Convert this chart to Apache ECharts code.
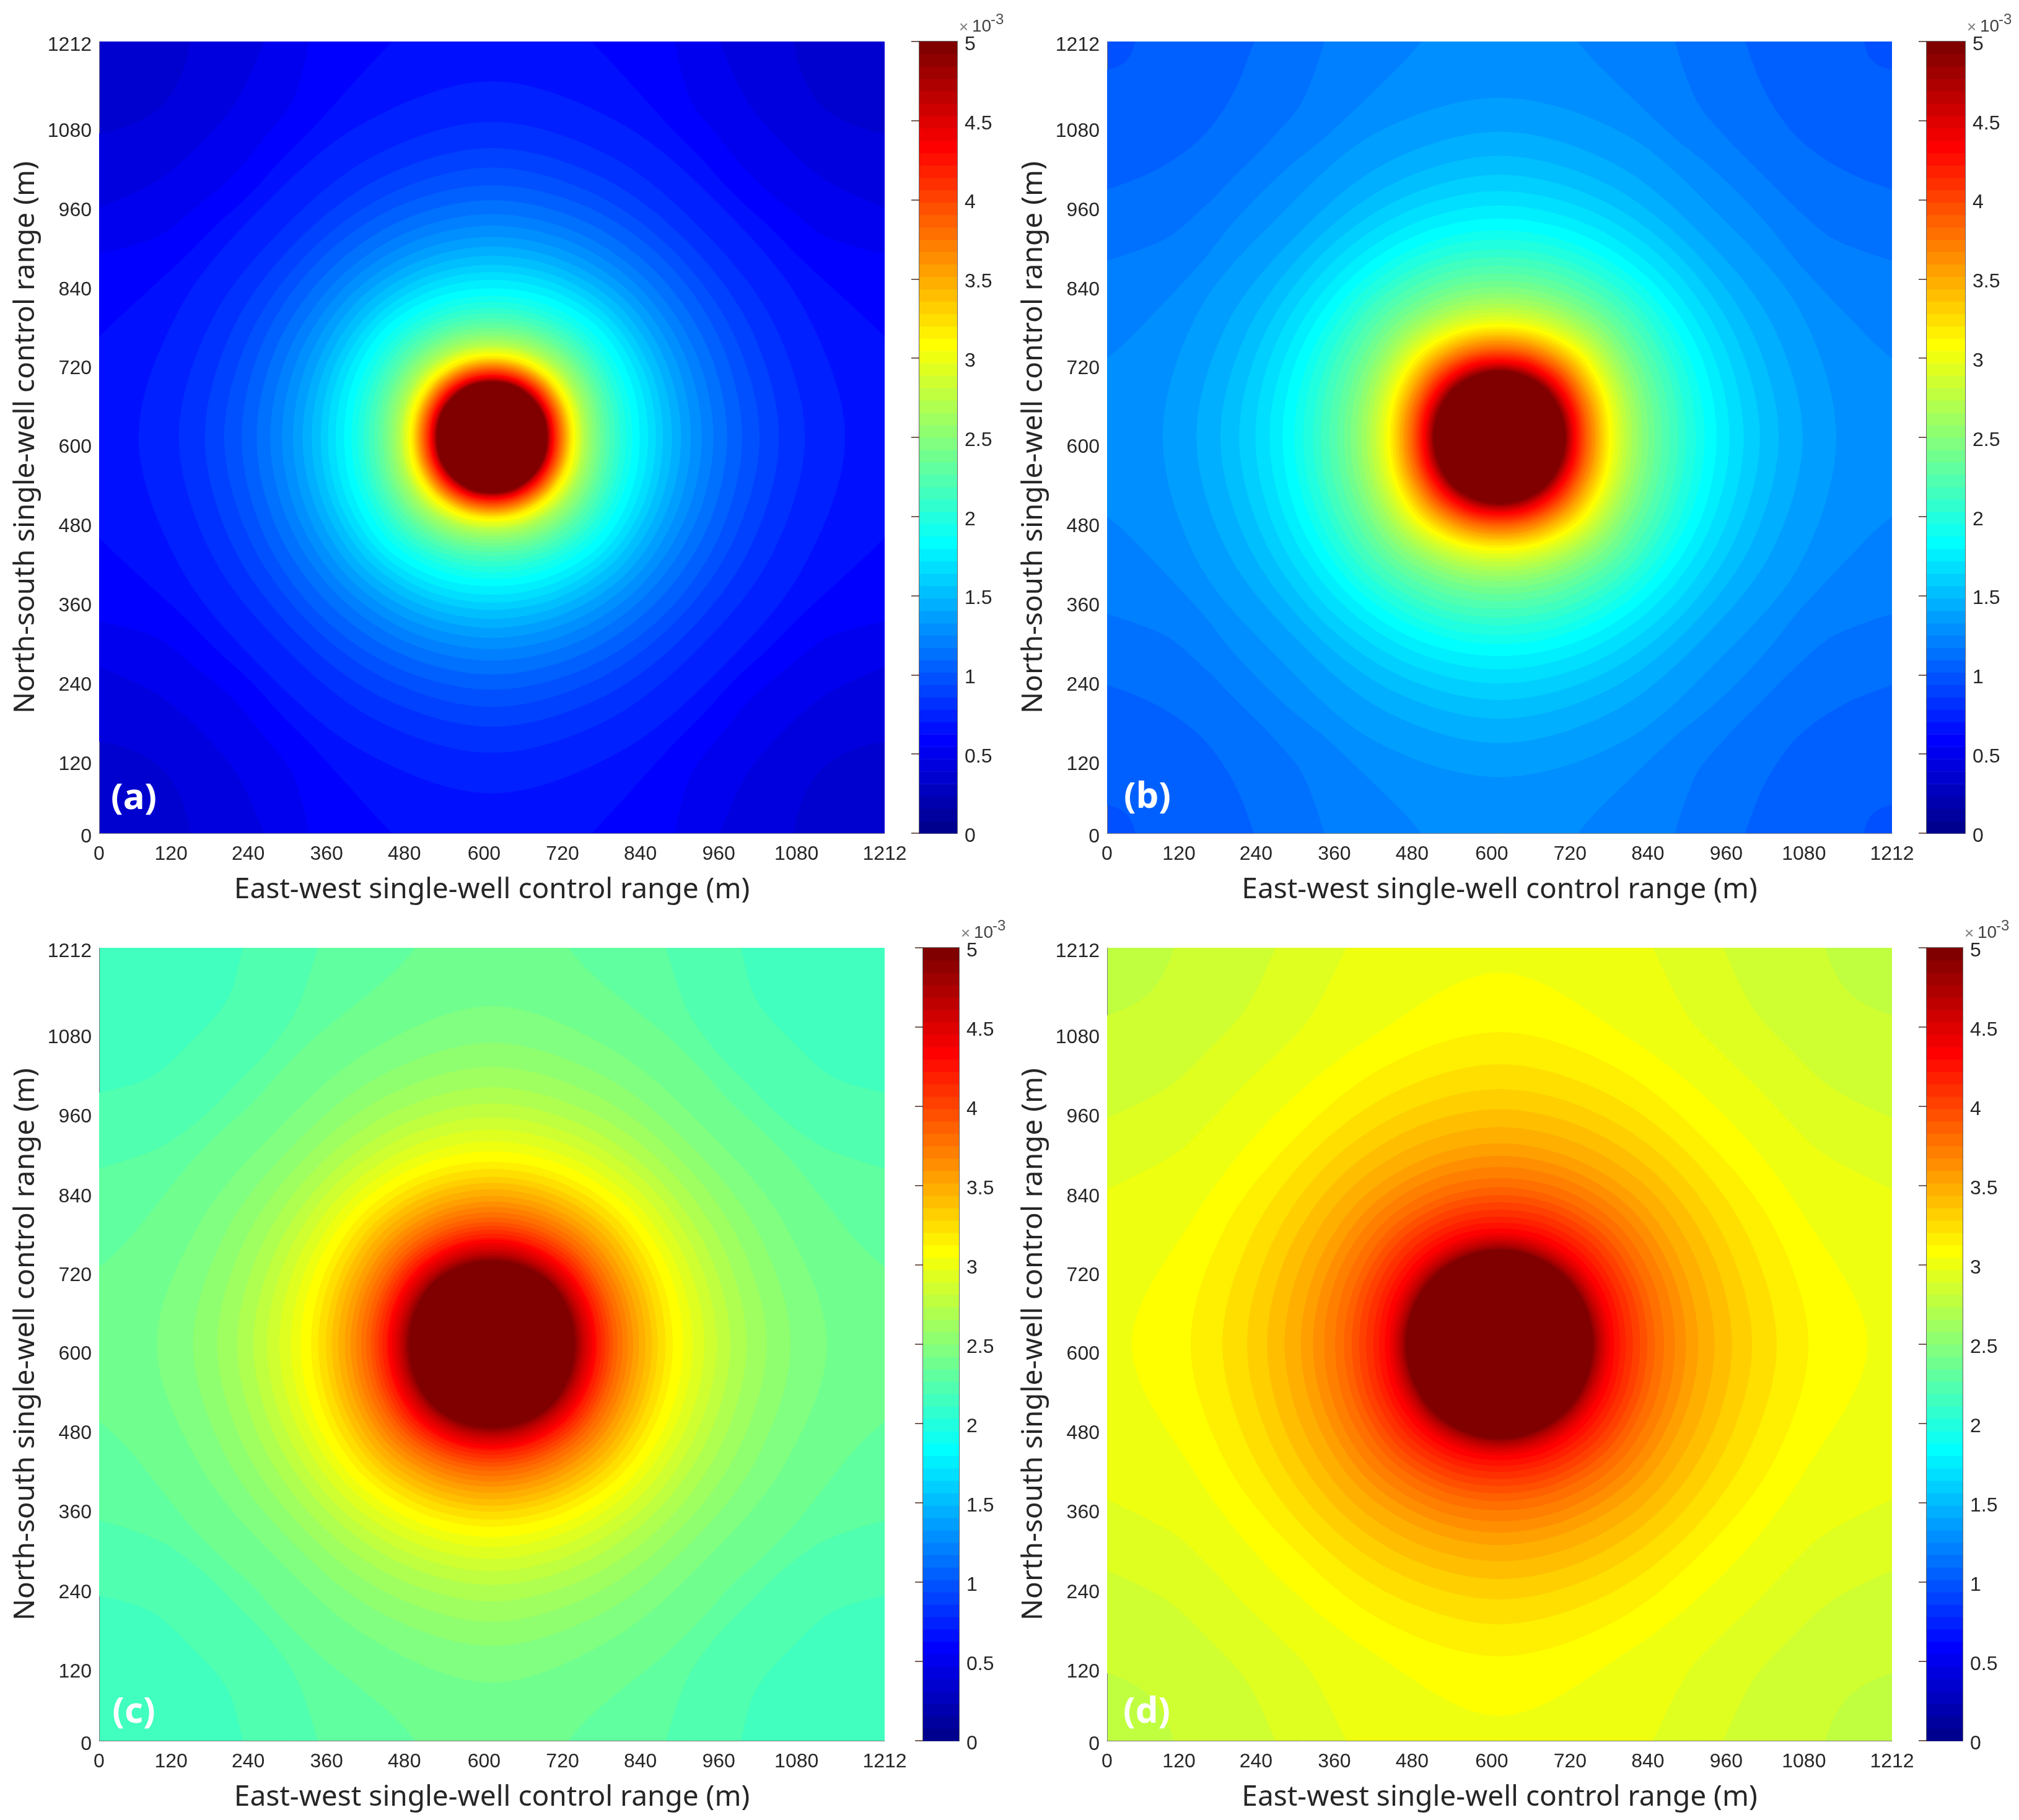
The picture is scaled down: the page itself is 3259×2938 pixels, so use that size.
<!DOCTYPE html>
<html><head><meta charset="utf-8">
<style>html,body{margin:0;padding:0;background:#fff}#c{width:3259px;height:2938px}</style>
<script src="https://cdn.jsdelivr.net/npm/echarts@6/dist/echarts.min.js"></script>
</head><body><div id="c"></div>
<script>
// Tick labels and where the reference prints them along each axis (m)
const tickText = ['0','120','240','360','480','600','720','840','960','1080','1212'];
const xTickAt = [0,111,230,351,471,594,715,835,956,1076,1212];
const yTickAt = [0,111,232,354,475,596,717,837,959,1080,1212];
const xTitle = 'East-west single-well control range (m)';
const yTitle = 'North-south single-well control range (m)';
const panelNames = ['(a)','(b)','(c)','(d)'];
const bandCount = 64;   // colour steps of the contour map, from 0 to 5 (x 10^-3)
const barBands = Array.from({length:bandCount},(_,i)=>i+1);
const wellCentre = [606,606];

// Contours: distance (m) from the well to the boundary of
// successive colour bands. firstBand is the colour band in the panel's corners.
const firstBand = [5,13,28,36];
// Outer contours that leave the frame: radius at 0, 15, 30, 37.5 and 45 deg from the axis
const a_outer = [[1300,1100,950,765,719],[1100,900,701,648,636],[1000,850,606,577,566],[750,620,549,535,527]];
const b_outer = [[1300,1200,1150,930,815],[1150,950,735,671,650],[1000,800,602,577,572],[720,590,533,527,525]];
const c_outer = [[1150,950,745,668,655],[1000,800,597,566,560],[720,588,543,530,522]];
const d_outer = [[1300,1200,950,810,762],[1100,900,695,645,636],[900,720,580,562,559]];
// Inner closed contours: radius at 0, 22.5 and 45 deg
const a_r0  = [545,483,443,413,386,363,342,324,307,292,278,264,253,241,228,217,207,198,190,182,175,168,162,156,151,146,141,138,135,131,128,125,122,120,118,116,114,112,110,108,106,104,102,100,98,96,95,93,92,90,89,88,87,86,85];
const a_r22 = [520,468,433,405,382,360,340,323,307,292,279,266,255,243,231,220,210,201,193,185,178,171,165,159,153,148,143,140,137,133,130,127,123,121,119,117,115,113,111,109,107,105,103,101,99,97,96,94,93,91,90,89,88,87,86];
const a_r45 = [500,454,425,400,380,358,339,323,308,294,281,268,257,246,235,223,213,204,196,188,180,173,167,161,155,150,145,142,138,134,131,128,124,122,120,118,116,114,112,110,108,106,104,102,100,98,96,95,93,92,90,89,88,87,86];

const b_r0  = [520,468,431,402,377,355,335,317,303,288,276,263,251,240,230,221,213,205,198,191,185,179,174,169,165,161,157,154,150,147,143,140,136,133,130,127,124,121,118,115,113,111,109,107,105,104,102];
const b_r22 = [503,455,422,396,374,353,335,318,305,290,279,266,254,243,233,224,216,208,201,194,188,182,177,172,168,164,160,156,152,149,145,142,138,135,132,129,126,123,120,117,114,112,110,108,106,104,102];
const b_r45 = [480,440,414,392,372,352,335,320,307,293,282,269,258,247,237,228,220,212,205,198,192,186,181,176,171,167,163,159,155,151,148,144,141,137,134,131,127,124,121,118,115,113,111,109,107,105,103];

const c_r0  = [517,461,424,393,368,347,328,310,295,279,268,256,247,237,227,218,210,202,194,187,181,175,169,163,160,155,150,145,141,137,134,131,128];
const c_r22 = [487,445,413,386,363,344,326,309,295,280,269,257,248,238,228,219,211,203,195,188,182,176,170,164,161,156,151,146,142,138,135,132,129];
const c_r45 = [466,432,405,382,360,343,326,310,296,282,271,259,250,240,230,221,213,205,197,190,184,178,172,166,162,157,152,147,143,139,136,133,131];

const d_r0  = [568,477,428,390,359,332,307,288,271,254,240,228,217,206,195,186,177,170,165,161,157,153,150,147,145];
const d_r22 = [510,460,418,384,356,330,306,288,272,256,241,230,219,208,197,188,179,171,166,161,157,153,150,147,145];
const d_r45 = [493,446,412,382,355,331,308,290,274,258,244,232,221,210,199,189,180,172,167,162,158,154,151,148,145];

const panelOuter = [a_outer,b_outer,c_outer,d_outer];
const panelR = [[a_r0,a_r22,a_r45],[b_r0,b_r22,b_r45],[c_r0,c_r22,c_r45],[d_r0,d_r22,d_r45]];

// Layout
const frames = [
 {l:160, t:67,  w:1268, h:1278, bl:1484, bw:61, tagX:216,  tagY:1303},
 {l:1787,t:67,  w:1267, h:1278, bl:3110, bw:62, tagX:1852, tagY:1301},
 {l:160, t:1530,w:1268, h:1280, bl:1490, bw:58, tagX:216,  tagY:2778},
 {l:1787,t:1530,w:1267, h:1280, bl:3110, bw:58, tagX:1851, tagY:2778}
];
const INK='#262626';
const TICK_FONT='"Liberation Sans",Arial,sans-serif';
const TITLE_FONT='"Noto Sans",sans-serif';

function jet(k){
  let r,g,b;
  b = k<=8 ? 0.5+k/16 : k<=24 ? 1 : k<=40 ? 1-(k-24)/16 : 0;
  g = k<=8 ? 0 : k<=24 ? (k-8)/16 : k<=40 ? 1 : k<=56 ? 1-(k-40)/16 : 0;
  r = k<=24 ? 0 : k<=40 ? (k-24)/16 : k<=56 ? 1 : 1-(k-56)/16;
  return `rgb(${Math.round(r*255)},${Math.round(g*255)},${Math.round(b*255)})`;
}

function contourShape(api,angles,pick){
  const n=angles.length, pts=[];
  for(let q=0;q<4;q++) for(let i=0;i<n;i++){
    const th=(angles[i]+q*90)*Math.PI/180, r=api.value(1+pick[i]);
    pts.push(api.coord([wellCentre[0]+r*Math.sin(th), wellCentre[1]+r*Math.cos(th)]));
  }
  return {type:'polygon',shape:{points:pts,smooth:0.33},style:{fill:jet(api.value(0))}};
}
const renderInner=(p,api)=>contourShape(api,[0,22.5,45,67.5],[0,1,2,1]);
const renderOuter=(p,api)=>contourShape(api,[0,15,30,37.5,45,52.5,60,75],[0,1,2,3,4,3,2,1]);
function renderBar(params,api){
  const k=api.value(0);
  const p0=api.coord([0,(k-1)*5/bandCount]), p1=api.coord([1,k*5/bandCount]);
  return {type:'rect',shape:{x:p0[0],y:p1[1],width:p1[0]-p0[0],height:p0[1]-p1[1]+0.6},style:{fill:jet(k)}};
}

const grid=[],xAxis=[],yAxis=[],series=[],graphic=[];
frames.forEach((f,i)=>{
  const g=grid.length;
  grid.push({left:f.l,top:f.t,width:f.w,height:f.h,show:true,backgroundColor:jet(firstBand[i]),borderWidth:0});
  const lineStyle={color:'#7a7a7a',width:1};
  xAxis.push({gridIndex:g,type:'value',min:0,max:1212,name:xTitle,nameLocation:'middle',nameGap:69,
    nameTextStyle:{fontFamily:TITLE_FONT,fontSize:46,color:INK,verticalAlign:'top'},
    axisLine:{show:true,onZero:false,lineStyle},axisTick:{show:false},splitLine:{show:false},
    axisLabel:{customValues:xTickAt,formatter:v=>tickText[xTickAt.indexOf(v)],fontFamily:TICK_FONT,fontSize:32,color:INK,margin:18,hideOverlap:false}});
  yAxis.push({gridIndex:g,type:'value',min:0,max:1212,name:yTitle,nameLocation:'middle',nameGap:95,
    nameTextStyle:{fontFamily:TITLE_FONT,fontSize:46,color:INK},
    axisLine:{show:true,onZero:false,lineStyle},axisTick:{show:false},splitLine:{show:false},
    axisLabel:{customValues:yTickAt,formatter:v=>tickText[yTickAt.indexOf(v)],fontFamily:TICK_FONT,fontSize:32,color:INK,margin:12,hideOverlap:false,verticalAlign:'top',lineHeight:12}});
  const band0=firstBand[i], outer=panelOuter[i], [r0,r22,r45]=panelR[i];
  series.push({type:'custom',xAxisIndex:g,yAxisIndex:g,coordinateSystem:'cartesian2d',clip:true,silent:true,animation:false,
    renderItem:renderOuter,data:outer.map((row,j)=>[band0+j+1,...row]),encode:{x:1,y:2}});
  series.push({type:'custom',xAxisIndex:g,yAxisIndex:g,coordinateSystem:'cartesian2d',clip:true,silent:true,animation:false,
    renderItem:renderInner,data:r0.map((v,j)=>[band0+outer.length+j+1,v,r22[j],r45[j]]),encode:{x:1,y:2}});
  // colour bar
  const b=grid.length;
  grid.push({left:f.bl,top:f.t,width:f.bw,height:f.h,show:true,borderColor:'#666',borderWidth:2,backgroundColor:'#fff'});
  xAxis.push({gridIndex:b,type:'value',min:0,max:1,show:false});
  yAxis.push({gridIndex:b,type:'value',min:0,max:5,interval:0.5,position:'right',
    axisLine:{show:false},splitLine:{show:false},
    axisTick:{show:true,inside:true,length:13,lineStyle:{color:'#4a2a20',width:1.5}},
    axisLabel:{fontFamily:TICK_FONT,fontSize:32,color:INK,margin:12,verticalAlign:'top',lineHeight:10,formatter:v=>String(v)}});
  series.push({type:'custom',xAxisIndex:b,yAxisIndex:b,coordinateSystem:'cartesian2d',silent:true,animation:false,z:1,
    renderItem:renderBar,data:barBands.map(k=>[k]),encode:{y:0}});
  const barR=f.bl+f.bw;
  graphic.push({type:'text',x:barR+3,y:f.t-22,z:100,style:{text:'×',fill:'#808080',font:`26px ${TICK_FONT}`,verticalAlign:'middle',align:'left'}});
  graphic.push({type:'text',x:barR+24,y:f.t-24,z:100,style:{text:'10',fill:'#404040',font:`28px ${TICK_FONT}`,verticalAlign:'middle',align:'left'}});
  graphic.push({type:'text',x:barR+54,y:f.t-35,z:100,style:{text:'-3',fill:'#505050',font:`24px ${TICK_FONT}`,verticalAlign:'middle',align:'left'}});
  graphic.push({type:'text',x:f.tagX,y:f.tagY-14,z:100,
    style:{text:panelNames[i],fill:'#fff',font:'bold 58px "Noto Sans",sans-serif',align:'center',verticalAlign:'middle'}});
});

const chart=echarts.init(document.getElementById('c'),null,{renderer:'canvas',width:3259,height:2938});
chart.setOption({animation:false,backgroundColor:'#fff',grid,xAxis,yAxis,series,graphic});
</script></body></html>
